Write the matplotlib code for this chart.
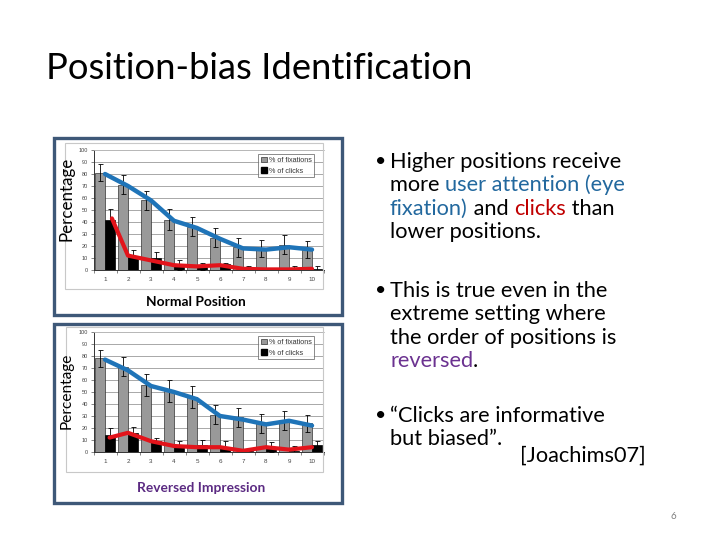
import matplotlib
matplotlib.use("Agg")
import matplotlib.pyplot as plt
from matplotlib.patches import Rectangle, Patch
import numpy as np

# ---------------- data ----------------
positions = [1, 2, 3, 4, 5, 6, 7, 8, 9, 10]
tick_labels = ["1", "2", "3", "4", "5", "6", "7", "8", "9", "10"]
y_ticks = [0, 10, 20, 30, 40, 50, 60, 70, 80, 90, 100]

normal_fix = [81, 71, 58, 42, 36, 27, 19, 18, 21, 17]
normal_fix_err = [7, 8, 8, 9, 8, 8, 8, 7, 8, 7]
normal_click = [42, 12, 10, 4, 3, 5, 1, 0.5, 1, 1]
normal_click_err = [9, 5, 5, 4, 3, 1, 2, 0, 2, 2]
normal_fix_line = [80, 70, 58, 41, 35, 26, 18, 17, 19, 17]
normal_click_line_x = [1.3, 2, 3, 4, 5, 6, 7, 8, 9, 10]
normal_click_line = [43, 12, 8, 4, 3, 4, 1, 0.5, 0.5, 1]

rev_fix = [78, 71, 56, 51, 46, 31, 29, 24, 26, 24]
rev_fix_err = [7, 8, 9, 9, 9, 8, 8, 8, 8, 7]
rev_click = [14, 16, 9, 5, 6, 4, 0.5, 4, 1, 6]
rev_click_err = [6, 5, 3, 4, 4, 5, 0, 4, 4, 3]
rev_fix_line = [77, 68, 55, 50, 44, 30, 27, 23, 26, 22]
rev_click_line_x = [1.2, 2, 3, 4, 5, 6, 7, 8, 9, 10]
rev_click_line = [12, 16, 9, 5, 4, 4, 1, 4, 2, 4]

legend_labels = ["% of fixations", "% of clicks"]

W, H = 720, 540
fig = plt.figure(figsize=(7.2, 5.4), dpi=100)
fig.patch.set_facecolor("white")
renderer = fig.canvas.get_renderer()

FONT = ["Lato", "DejaVu Sans"]
SMALL = ["Liberation Sans", "DejaVu Sans"]


def fx(x):
    return x / W


def fy(y):
    return 1 - y / H


def text_width(s, size, family=FONT, weight="normal"):
    t = fig.text(0, 0, s, fontsize=size, family=family, weight=weight)
    w = t.get_window_extent(renderer).width
    t.remove()
    return w


def fit_size(s, target, family=FONT, weight="normal"):
    return 10 * target / text_width(s, 10, family, weight)


def runs_text(x, y, runs, size):
    prefix = ""
    for s, c in runs:
        if prefix:
            off = text_width(prefix + "x", size) - text_width("x", size)
        else:
            off = 0
        fig.text(fx(x + off), fy(y), s, fontsize=size, family=FONT,
                 color=c, va="baseline", ha="left")
        prefix += s


# ---------------- title ----------------
ts = fit_size("Position-bias Identification", 428)
fig.text(fx(46), fy(79), "Position-bias Identification", fontsize=ts,
         family=FONT, va="baseline", ha="left", color="black")

# ---------------- frames ----------------
frame_col = "#3E5878"
for (x0, y0, x1, y1) in [(54, 138, 342, 315), (54, 324, 342, 503)]:
    fig.patches.append(Rectangle((fx(x0), fy(y1)), fx(x1) - fx(x0), fy(y0) - fy(y1),
                                 transform=fig.transFigure, fill=False,
                                 edgecolor=frame_col, linewidth=2.4, zorder=5))
for (x0, y0, x1, y1) in [(65, 143, 323, 289), (66, 327, 323, 472)]:
    fig.patches.append(Rectangle((fx(x0), fy(y1)), fx(x1) - fx(x0), fy(y0) - fy(y1),
                                 transform=fig.transFigure, fill=False,
                                 edgecolor="#C8C8C8", linewidth=0.8, zorder=1))


def draw_chart(top_px, fix, fix_err, click, click_err, fl, clx, cl):
    left, right, bottom = 93.5, 323.5, top_px + 120
    ax = fig.add_axes([fx(left), fy(bottom), fx(right) - fx(left), 120 / H])
    x = np.array(positions, dtype=float)
    bw = 0.45
    ax.bar(x - bw / 2, fix, width=bw, color="#999999", edgecolor="#333333",
           linewidth=0.5, zorder=2)
    ax.bar(x + bw / 2, click, width=bw, color="black", edgecolor="black",
           linewidth=0.5, zorder=2)
    ax.errorbar(x - bw / 2, fix, yerr=fix_err, fmt="none", ecolor="black",
                elinewidth=0.6, capsize=1.8, capthick=0.6, zorder=3)
    ax.errorbar(x + bw / 2, click, yerr=click_err, fmt="none", ecolor="black",
                elinewidth=0.6, capsize=1.8, capthick=0.6, zorder=3)
    ax.plot(x, fl, color="#1F74B8", linewidth=3.2, solid_capstyle="round",
            solid_joinstyle="round", zorder=4)
    ax.plot(clx, cl, color="#E3141B", linewidth=3.0, solid_capstyle="round",
            solid_joinstyle="round", zorder=4)
    ax.set_xlim(0.5, 10.5)
    ax.set_ylim(0, 100)
    ax.set_yticks(y_ticks)
    ax.set_yticklabels([str(v) for v in y_ticks], fontsize=4, color="#444444",
                       family=SMALL)
    ax.set_xticks(positions)
    ax.set_xticklabels(tick_labels, fontsize=4.5, color="#444444", family=SMALL)
    ax.set_xticks(np.arange(0.5, 11, 1), minor=True)
    ax.tick_params(axis="x", which="major", length=0, pad=5)
    ax.tick_params(axis="x", which="minor", length=2, width=0.5, color="#555555")
    ax.tick_params(axis="y", length=2, width=0.5, color="#555555", pad=2)
    ax.yaxis.grid(True, color="#9A9A9A", linewidth=0.6, zorder=0)
    ax.set_axisbelow(True)
    for s in ["top", "right"]:
        ax.spines[s].set_color("#BBBBBB")
        ax.spines[s].set_linewidth(0.6)
    for s in ["left", "bottom"]:
        ax.spines[s].set_color("#333333")
        ax.spines[s].set_linewidth(0.7)
    handles = [Patch(facecolor="#999999", edgecolor="#333333", linewidth=0.5),
               Patch(facecolor="black", edgecolor="black")]
    leg = ax.legend(handles, legend_labels, loc="upper right",
                    bbox_to_anchor=(0.96, 0.965),
                    prop={"family": SMALL, "size": 5.2},
                    frameon=True, fancybox=False, handlelength=0.8,
                    handleheight=0.8, handletextpad=0.3, borderpad=0.35,
                    labelspacing=0.45, borderaxespad=0)
    leg.get_frame().set_edgecolor("#555555")
    leg.get_frame().set_linewidth(0.6)
    leg.get_frame().set_facecolor("white")
    for t in leg.get_texts():
        t.set_color("#333333")
    return ax


draw_chart(150, normal_fix, normal_fix_err, normal_click, normal_click_err,
           normal_fix_line, normal_click_line_x, normal_click_line)
draw_chart(332, rev_fix, rev_fix_err, rev_click, rev_click_err,
           rev_fix_line, rev_click_line_x, rev_click_line)

# y labels
ps1 = fit_size("Percentage", 84)
fig.text(fx(67), fy(199), "Percentage", rotation=90, fontsize=ps1, family=FONT,
         ha="center", va="center")
ps2 = fit_size("Percentage", 76)
fig.text(fx(67), fy(391), "Percentage", rotation=90, fontsize=ps2, family=FONT,
         ha="center", va="center")

# x labels
ns = fit_size("Normal Position", 99, weight="bold")
fig.text(fx(196), fy(302), "Normal Position", fontsize=ns, family=FONT,
         weight="bold", ha="center", va="center")
rs = fit_size("Reversed Impression", 128, weight="bold")
fig.text(fx(201), fy(488), "Reversed Impression", fontsize=rs, family=FONT,
         weight="bold", ha="center", va="center", color="#5B2A82")

# ---------------- bullets ----------------
bs = fit_size("Higher positions receive", 232)
blue = "#22689E"
red = "#C00000"
purple = "#6B3290"
k = "black"
step = 23.3
bullets = [
    (168, [[("Higher positions receive", k)],
           [("more ", k), ("user attention (eye", blue)],
           [("fixation)", blue), (" and ", k), ("clicks", red), (" than", k)],
           [("lower positions.", k)]]),
    (297, [[("This is true even in the", k)],
           [("extreme setting where", k)],
           [("the order of positions is", k)],
           [("reversed", purple), (".", k)]]),
    (422, [[("\u201cClicks are informative", k)],
           [("but biased\u201d.", k)]]),
]
for y0, lines in bullets:
    fig.text(fx(386), fy(y0 - 1), "\u2022", fontsize=bs * 0.9, family=FONT,
             va="baseline", ha="right")
    for i, runs in enumerate(lines):
        runs_text(390, y0 + i * step, runs, bs)

fig.text(fx(520), fy(462), "[Joachims07]", fontsize=bs, family=FONT,
         va="baseline", ha="left")

fig.text(fx(676), fy(519), "6", fontsize=7, family=FONT, color="#7F7F7F",
         ha="right", va="baseline")

fig.savefig("out.png", dpi=100, facecolor="white")
